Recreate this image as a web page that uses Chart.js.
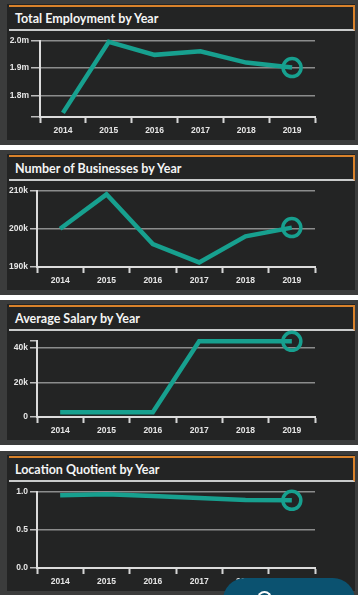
<!DOCTYPE html>
<html>
<head>
<meta charset="utf-8">
<script src="https://cdn.jsdelivr.net/npm/chart.js@4/dist/chart.umd.min.js"></script>
<style>
  html, body { margin: 0; padding: 0; background: #ffffff; }
  body { width: 358px; height: 595px; position: relative; overflow: hidden; }
  .panel { position: absolute; left: 0; width: 358px; height: 145px; background: #3b3c3c; }
  .inner { position: absolute; left: 7px; top: 4px; width: 348px; height: 136px; background: #232424; }
  .tbox { position: absolute; left: 9px; top: 5px; width: 344px; height: 22px;
          border-top: 2px solid #d9822b; border-right: 2px solid #d9822b; border-bottom: 2px solid #c9cbcb;
          background: #232424; }
  .ttl { position: absolute; left: 6px; top: 4px; color: #f4f4f4; font-family: Lato, "Open Sans", sans-serif;
         font-weight: bold; font-size: 12.5px; letter-spacing: 0px; white-space: nowrap; }
  canvas.c { position: absolute; left: 0; }
  .bubble { position: absolute; left: 223px; top: 578px; width: 132px; height: 40px; background: #0b5270;
            border-radius: 22px 22px 0 0; }
  .glyph { position: absolute; left: 34px; top: 13px; width: 11px; height: 11px; border-radius: 50%;
           border: 2px solid #ffffff; border-bottom-color: transparent; }
</style>
</head>
<body>
<script>
const years = ['2014', '2015', '2016', '2017', '2018', '2019'];
const titles = ['Total Employment by Year', 'Number of Businesses by Year', 'Average Salary by Year', 'Location Quotient by Year'];
const employment = [1738000, 1995000, 1948000, 1961000, 1920000, 1902000];
const businesses = [200000, 209000, 196000, 191200, 198000, 200300];
const salary = [2800, 2800, 2800, 43900, 43900, 43900];
const quotient = [0.95, 0.965, 0.94, 0.915, 0.89, 0.885];
const empTicks = [1800000, 1900000, 2000000];
const bizTicks = [190000, 200000, 210000];
const salTicks = [0, 20000, 40000];
const lqTicks = [0, 0.5, 1.0];
const empLabels = ['1.8m', '1.9m', '2.0m'];
const bizLabels = ['190k', '200k', '210k'];
const salLabels = ['0', '20k', '40k'];
const lqLabels = ['0.0', '0.5', '1.0'];

const panels = [
  { top: 0,   data: employment, ticks: empTicks, labels: empLabels, min: 1723000, max: 2000000, axisX: 40 },
  { top: 150, data: businesses, ticks: bizTicks, labels: bizLabels, min: 190000, max: 210000, axisX: 37 },
  { top: 300, data: salary,     ticks: salTicks, labels: salLabels, min: 0, max: 44400, axisX: 37 },
  { top: 451, data: quotient,   ticks: lqTicks,  labels: lqLabels,  min: 0, max: 1.0, axisX: 37 }
];

const TEAL = '#17a08f';
const tickFont = { family: '"Liberation Sans", Arial, sans-serif', weight: 'bold', size: 8.5 };

panels.forEach((p, i) => {
  const panel = document.createElement('div');
  panel.className = 'panel';
  panel.style.top = p.top + 'px';
  panel.innerHTML = '<div class="inner"></div><div class="tbox"><div class="ttl"></div></div>';
  panel.querySelector('.ttl').textContent = titles[i];
  document.body.appendChild(panel);

  const cv = document.createElement('canvas');
  cv.className = 'c';
  cv.width = 358; cv.height = 112;
  cv.style.width = '358px'; cv.style.height = '112px';
  cv.style.top = (p.top + 28) + 'px';
  document.body.appendChild(cv);

  const tickLen = p.axisX === 40 ? 9 : 7;
  new Chart(cv, {
    type: 'line',
    data: {
      labels: years,
      datasets: [{
        data: p.data,
        borderColor: TEAL,
        borderWidth: 4.5,
        borderJoinStyle: 'miter',
        fill: false,
        tension: 0,
        clip: false,
        pointRadius: p.data.map((v, k) => k === p.data.length - 1 ? 9 : 0),
        pointBorderWidth: 3.5,
        pointBorderColor: TEAL,
        pointBackgroundColor: 'rgba(0,0,0,0)',
        pointHoverRadius: 9
      }]
    },
    options: {
      responsive: false,
      animation: false,
      events: [],
      layout: { padding: { top: 10, right: 43, bottom: 0, left: 0 } },
      plugins: { legend: { display: false }, tooltip: { enabled: false }, title: { display: false } },
      scales: {
        x: {
          type: 'category',
          offset: true,
          afterFit: s => { s.height = 23; },
          grid: { offset: true, drawOnChartArea: false, drawTicks: true, tickLength: 6, tickColor: '#d6d6d6', tickWidth: 2 },
          border: { display: true, color: '#dcdcdc', width: 2 },
          ticks: { color: '#e6e6e6', font: tickFont, padding: 3, maxRotation: 0, autoSkip: false }
        },
        y: {
          type: 'linear',
          min: p.min,
          max: p.max,
          afterFit: s => { s.width = p.axisX; },
          afterBuildTicks: s => {
            const t = p.ticks.map(v => ({ value: v }));
            if (p.min < p.ticks[0]) t.unshift({ value: p.min });
            if (p.max > p.ticks[p.ticks.length - 1]) t.push({ value: p.max });
            s.ticks = t;
          },
          grid: {
            drawTicks: true,
            tickLength: tickLen,
            lineWidth: 1.5,
            tickWidth: 1.5,
            color: c => (c.tick && p.ticks.indexOf(c.tick.value) >= 0) ? '#8b8c8c' : 'rgba(0,0,0,0)',
            tickColor: '#bdbdbd'
          },
          border: { display: true, color: '#dcdcdc', width: 2 },
          ticks: {
            color: '#e6e6e6', font: tickFont, padding: 2,
            callback: function (v) { const k = p.ticks.indexOf(v); return k >= 0 ? p.labels[k] : ''; }
          }
        }
      }
    }
  });
});

const b = document.createElement('div');
b.className = 'bubble';
b.innerHTML = '<div class="glyph"></div>';
document.body.appendChild(b);
</script>
</body>
</html>
